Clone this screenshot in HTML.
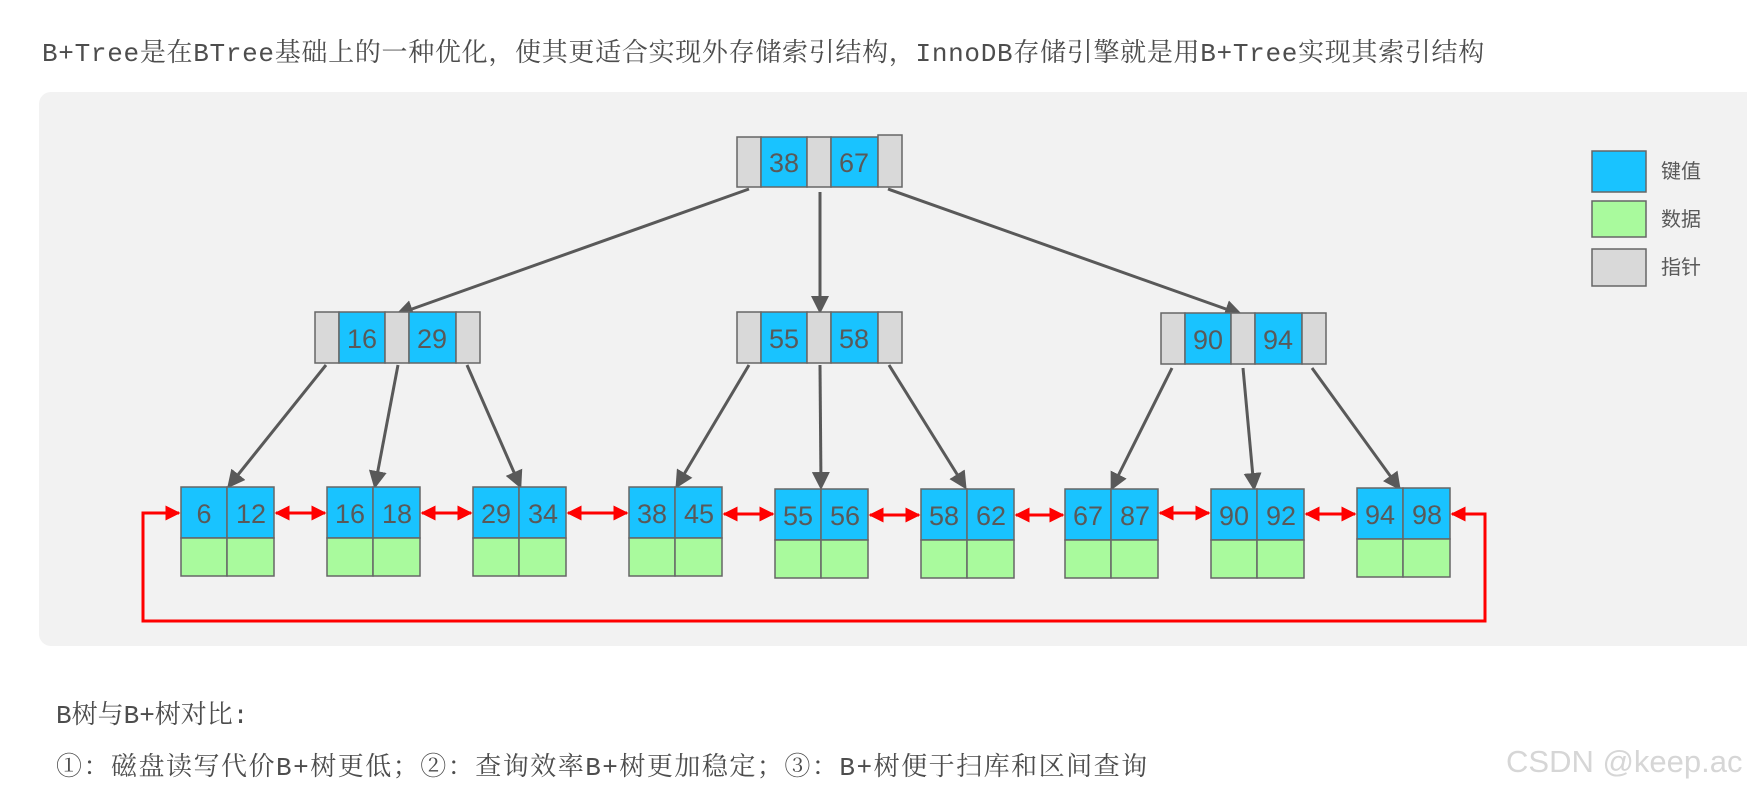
<!DOCTYPE html>
<html><head><meta charset="utf-8"><style>
html,body{margin:0;padding:0;background:#fff;}
body{width:1747px;height:789px;position:relative;overflow:hidden;}
.t{position:absolute;white-space:nowrap;color:#4d4d4d;font-family:"Liberation Mono","Noto Serif CJK SC",monospace;}
</style></head><body>
<div class="t" style="left:42px;top:32px;font-size:26px;letter-spacing:0.7px;">B+Tree是在BTree基础上的一种优化，使其更适合实现外存储索引结构，InnoDB存储引擎就是用B+Tree实现其索引结构</div>
<svg width="1747" height="789" style="position:absolute;left:0;top:0" xmlns="http://www.w3.org/2000/svg">
<defs>
<marker id="ga" markerWidth="6" markerHeight="6" refX="5" refY="3" orient="auto" markerUnits="strokeWidth"><path d="M0,0 L6,3 L0,6 z" fill="#595959"/></marker>
<marker id="ra" markerWidth="5" markerHeight="5" refX="4.5" refY="2.5" orient="auto" markerUnits="strokeWidth"><path d="M0,0 L5,2.5 L0,5 z" fill="#ff0000"/></marker>
<marker id="rs" markerWidth="5" markerHeight="5" refX="0.5" refY="2.5" orient="auto" markerUnits="strokeWidth"><path d="M5,0 L0,2.5 L5,5 z" fill="#ff0000"/></marker>
</defs>
<rect x="39" y="92" width="1720" height="554" rx="12" fill="#f2f2f2"/>
<g stroke="#595959" stroke-width="3" fill="none" marker-end="url(#ga)">
<line x1="749" y1="189" x2="398" y2="314"/>
<line x1="820" y1="192" x2="820" y2="311"/>
<line x1="888" y1="189" x2="1240" y2="314"/>
<line x1="326" y1="365" x2="229" y2="486"/>
<line x1="398" y1="365" x2="375" y2="486"/>
<line x1="467" y1="365" x2="520" y2="486"/>
<line x1="749" y1="365" x2="677" y2="486"/>
<line x1="820" y1="365" x2="821" y2="487"/>
<line x1="889" y1="365" x2="965" y2="487"/>
<line x1="1172" y1="368" x2="1112" y2="488"/>
<line x1="1243" y1="368" x2="1254" y2="488"/>
<line x1="1312" y1="368" x2="1399" y2="488"/>
</g>
<g stroke="#666" stroke-width="1.5" font-family="Liberation Sans,sans-serif" font-size="27" text-anchor="middle">
<g transform="translate(737,137)"><rect x="0" y="0" width="24" height="50" fill="#d9d9d9"/><rect x="24" y="0" width="46" height="50" fill="#19c3ff"/><rect x="70" y="0" width="24" height="50" fill="#d9d9d9"/><rect x="94" y="0" width="47" height="50" fill="#19c3ff"/><rect x="141" y="-2" width="24" height="52" fill="#d9d9d9"/><text x="47" y="35" fill="#595959" stroke="none">38</text><text x="117" y="35" fill="#595959" stroke="none">67</text></g>
<g transform="translate(315,312)"><rect x="0" y="0" width="24" height="51" fill="#d9d9d9"/><rect x="24" y="0" width="46" height="51" fill="#19c3ff"/><rect x="70" y="0" width="24" height="51" fill="#d9d9d9"/><rect x="94" y="0" width="47" height="51" fill="#19c3ff"/><rect x="141" y="0" width="24" height="51" fill="#d9d9d9"/><text x="47" y="36" fill="#595959" stroke="none">16</text><text x="117" y="36" fill="#595959" stroke="none">29</text></g>
<g transform="translate(737,312)"><rect x="0" y="0" width="24" height="51" fill="#d9d9d9"/><rect x="24" y="0" width="46" height="51" fill="#19c3ff"/><rect x="70" y="0" width="24" height="51" fill="#d9d9d9"/><rect x="94" y="0" width="47" height="51" fill="#19c3ff"/><rect x="141" y="0" width="24" height="51" fill="#d9d9d9"/><text x="47" y="36" fill="#595959" stroke="none">55</text><text x="117" y="36" fill="#595959" stroke="none">58</text></g>
<g transform="translate(1161,313)"><rect x="0" y="0" width="24" height="51" fill="#d9d9d9"/><rect x="24" y="0" width="46" height="51" fill="#19c3ff"/><rect x="70" y="0" width="24" height="51" fill="#d9d9d9"/><rect x="94" y="0" width="47" height="51" fill="#19c3ff"/><rect x="141" y="0" width="24" height="51" fill="#d9d9d9"/><text x="47" y="36" fill="#595959" stroke="none">90</text><text x="117" y="36" fill="#595959" stroke="none">94</text></g>
<g transform="translate(181,487)"><rect width="46" height="51" fill="#19c3ff"/><rect x="46" width="47" height="51" fill="#19c3ff"/><rect y="51" width="46" height="38" fill="#a9fa9d"/><rect x="46" y="51" width="47" height="38" fill="#a9fa9d"/><text x="23" y="36" fill="#595959" stroke="none">6</text><text x="70" y="36" fill="#595959" stroke="none">12</text></g>
<g transform="translate(327,487)"><rect width="46" height="51" fill="#19c3ff"/><rect x="46" width="47" height="51" fill="#19c3ff"/><rect y="51" width="46" height="38" fill="#a9fa9d"/><rect x="46" y="51" width="47" height="38" fill="#a9fa9d"/><text x="23" y="36" fill="#595959" stroke="none">16</text><text x="70" y="36" fill="#595959" stroke="none">18</text></g>
<g transform="translate(473,487)"><rect width="46" height="51" fill="#19c3ff"/><rect x="46" width="47" height="51" fill="#19c3ff"/><rect y="51" width="46" height="38" fill="#a9fa9d"/><rect x="46" y="51" width="47" height="38" fill="#a9fa9d"/><text x="23" y="36" fill="#595959" stroke="none">29</text><text x="70" y="36" fill="#595959" stroke="none">34</text></g>
<g transform="translate(629,487)"><rect width="46" height="51" fill="#19c3ff"/><rect x="46" width="47" height="51" fill="#19c3ff"/><rect y="51" width="46" height="38" fill="#a9fa9d"/><rect x="46" y="51" width="47" height="38" fill="#a9fa9d"/><text x="23" y="36" fill="#595959" stroke="none">38</text><text x="70" y="36" fill="#595959" stroke="none">45</text></g>
<g transform="translate(775,489)"><rect width="46" height="51" fill="#19c3ff"/><rect x="46" width="47" height="51" fill="#19c3ff"/><rect y="51" width="46" height="38" fill="#a9fa9d"/><rect x="46" y="51" width="47" height="38" fill="#a9fa9d"/><text x="23" y="36" fill="#595959" stroke="none">55</text><text x="70" y="36" fill="#595959" stroke="none">56</text></g>
<g transform="translate(921,489)"><rect width="46" height="51" fill="#19c3ff"/><rect x="46" width="47" height="51" fill="#19c3ff"/><rect y="51" width="46" height="38" fill="#a9fa9d"/><rect x="46" y="51" width="47" height="38" fill="#a9fa9d"/><text x="23" y="36" fill="#595959" stroke="none">58</text><text x="70" y="36" fill="#595959" stroke="none">62</text></g>
<g transform="translate(1065,489)"><rect width="46" height="51" fill="#19c3ff"/><rect x="46" width="47" height="51" fill="#19c3ff"/><rect y="51" width="46" height="38" fill="#a9fa9d"/><rect x="46" y="51" width="47" height="38" fill="#a9fa9d"/><text x="23" y="36" fill="#595959" stroke="none">67</text><text x="70" y="36" fill="#595959" stroke="none">87</text></g>
<g transform="translate(1211,489)"><rect width="46" height="51" fill="#19c3ff"/><rect x="46" width="47" height="51" fill="#19c3ff"/><rect y="51" width="46" height="38" fill="#a9fa9d"/><rect x="46" y="51" width="47" height="38" fill="#a9fa9d"/><text x="23" y="36" fill="#595959" stroke="none">90</text><text x="70" y="36" fill="#595959" stroke="none">92</text></g>
<g transform="translate(1357,488)"><rect width="46" height="51" fill="#19c3ff"/><rect x="46" width="47" height="51" fill="#19c3ff"/><rect y="51" width="46" height="38" fill="#a9fa9d"/><rect x="46" y="51" width="47" height="38" fill="#a9fa9d"/><text x="23" y="36" fill="#595959" stroke="none">94</text><text x="70" y="36" fill="#595959" stroke="none">98</text></g>
<rect x="1592" y="151" width="54" height="41" fill="#19c3ff"/>
<rect x="1592" y="201" width="54" height="36" fill="#a9fa9d"/>
<rect x="1592" y="249" width="54" height="37" fill="#d9d9d9"/>
</g>
<g font-family="Liberation Sans,'Noto Sans CJK SC',sans-serif" font-size="20" fill="#595959">
<text x="1661" y="178">键值</text><text x="1661" y="226">数据</text><text x="1661" y="274">指针</text>
</g>
<g stroke="#ff0000" stroke-width="3" fill="none">
<line x1="276" y1="513" x2="325" y2="513" marker-start="url(#rs)" marker-end="url(#ra)"/>
<line x1="422" y1="513" x2="471" y2="513" marker-start="url(#rs)" marker-end="url(#ra)"/>
<line x1="568" y1="513" x2="627" y2="513" marker-start="url(#rs)" marker-end="url(#ra)"/>
<line x1="724" y1="514" x2="773" y2="514" marker-start="url(#rs)" marker-end="url(#ra)"/>
<line x1="870" y1="515" x2="919" y2="515" marker-start="url(#rs)" marker-end="url(#ra)"/>
<line x1="1016" y1="515" x2="1063" y2="515" marker-start="url(#rs)" marker-end="url(#ra)"/>
<line x1="1160" y1="513" x2="1209" y2="513" marker-start="url(#rs)" marker-end="url(#ra)"/>
<line x1="1306" y1="514" x2="1355" y2="514" marker-start="url(#rs)" marker-end="url(#ra)"/>
<polyline points="1452,514 1485,514 1485,621 143,621 143,513 179,513" marker-start="url(#rs)" marker-end="url(#ra)"/>
</g>
</svg>
<div class="t" style="left:56px;top:694px;font-size:26px;">B树与B+树对比:</div>
<div class="t" style="left:56px;top:746px;font-size:26px;letter-spacing:1.5px;">①：磁盘读写代价B+树更低；②：查询效率B+树更加稳定；③：B+树便于扫库和区间查询</div>
<div class="t" style="left:1506px;top:744px;font-size:31px;color:#d6d6d6;font-family:'Liberation Sans',sans-serif;">CSDN @keep.ac</div>
</body></html>
